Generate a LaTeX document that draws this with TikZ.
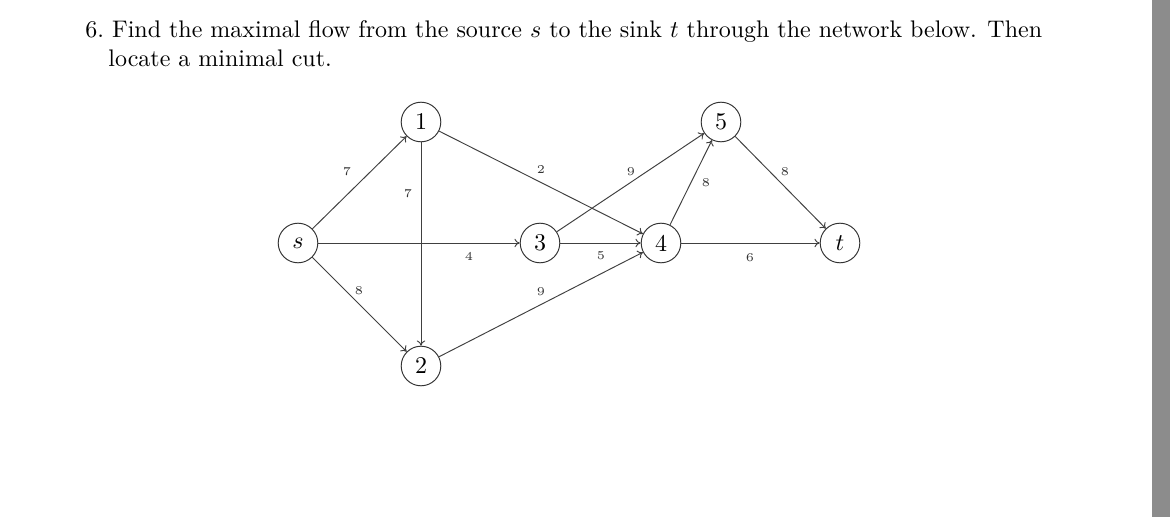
\documentclass[tikz,border=0pt]{standalone}
\usetikzlibrary{arrows.meta}
\begin{document}
\begin{tikzpicture}[x=0.4167pt,y=-0.4167pt,
  vtx/.style={circle,draw=black!80,line width=0.4pt,minimum size=16.5pt,inner sep=0pt,font=\normalsize},
  edge/.style={draw=black!75,line width=0.4pt,-{To[length=2.2pt,width=3.5pt]}},
  lbl/.style={font=\tiny,text=black!80}]
\useasboundingbox (0,0) rectangle (1170,517);
\fill[black!45] (1152,0) rectangle (1170,517);
\node[anchor=base west,inner sep=0pt] (l1) at (85,37) {6.\ Find the maximal flow from the source $s$ to the sink $t$ through the network below. Then};
\node[anchor=base west,inner sep=0pt] (l2) at (108,66) {locate a minimal cut.};
\node[vtx] (s) at (298,243) {$s$};
\node[vtx] (n1) at (421,122) {1};
\node[vtx] (n2) at (421,366) {2};
\node[vtx] (n3) at (540,243) {3};
\node[vtx] (n4) at (661,243) {4};
\node[vtx] (n5) at (721,122) {5};
\node[vtx] (t) at (840,243) {$t$};
\draw[edge] (s) -- (n1);
\draw[edge] (s) -- (n2);
\draw[edge] (s) -- (n3);
\draw[edge] (n1) -- (n2);
\draw[edge] (n1) -- (n4);
\draw[edge] (n3) -- (n5);
\draw[edge] (n3) -- (n4);
\draw[edge] (n2) -- (n4);
\draw[edge] (n4) -- (n5);
\draw[edge] (n5) -- (t);
\draw[edge] (n4) -- (t);
\node[lbl] (w1) at (347,172) {7};
\node[lbl] (w2) at (359,291) {8};
\node[lbl] (w3) at (469,256) {4};
\node[lbl] (w4) at (408,194) {7};
\node[lbl] (w5) at (541,170) {2};
\node[lbl] (w6) at (631,172) {9};
\node[lbl] (w7) at (601,256) {5};
\node[lbl] (w8) at (541,292) {9};
\node[lbl] (w9) at (706,183) {8};
\node[lbl] (w10) at (785,172) {8};
\node[lbl] (w11) at (750,258) {6};
\end{tikzpicture}
\end{document}
